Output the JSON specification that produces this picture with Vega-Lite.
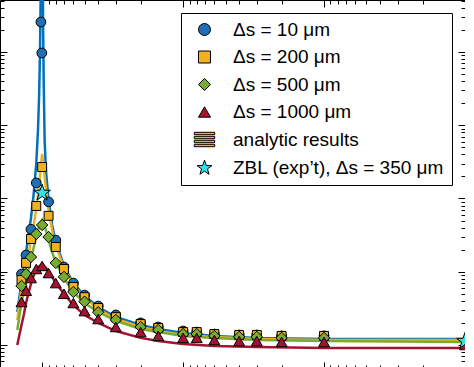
{
  "$schema": "https://vega.github.io/schema/vega-lite/v6.json",
  "width": 465,
  "height": 369,
  "autosize": {"type": "none"},
  "padding": 0,
  "background": "white",
  "config": {
    "view": {"stroke": "black", "strokeWidth": 1},
    "axis": {"labels": false, "title": null, "domain": false, "grid": false, "tickColor": "black", "tickWidth": 1}
  },
  "datasets": {
    "curves": [
      {"series": "Δs = 10 μm", "x": 1500, "y": 2.82}, {"series": "Δs = 10 μm", "x": 1450, "y": 4.5}, {"series": "Δs = 10 μm", "x": 1400, "y": 7.0}, {"series": "Δs = 10 μm", "x": 1350, "y": 11.3}, {"series": "Δs = 10 μm", "x": 1300, "y": 18.6}, {"series": "Δs = 10 μm", "x": 1250, "y": 30.8}, {"series": "Δs = 10 μm", "x": 1200, "y": 54.2}, {"series": "Δs = 10 μm", "x": 1150, "y": 111}, {"series": "Δs = 10 μm", "x": 1100, "y": 305}, {"series": "Δs = 10 μm", "x": 1070, "y": 860}, {"series": "Δs = 10 μm", "x": 1050, "y": 2600}, {"series": "Δs = 10 μm", "x": 1035, "y": 10600}, {"series": "Δs = 10 μm", "x": 1025, "y": 51000}, {"series": "Δs = 10 μm", "x": 1015, "y": 180000}, {"series": "Δs = 10 μm", "x": 990, "y": 180000}, {"series": "Δs = 10 μm", "x": 985, "y": 27000}, {"series": "Δs = 10 μm", "x": 975, "y": 4150}, {"series": "Δs = 10 μm", "x": 960, "y": 630}, {"series": "Δs = 10 μm", "x": 940, "y": 245}, {"series": "Δs = 10 μm", "x": 900, "y": 95}, {"series": "Δs = 10 μm", "x": 850, "y": 43.5}, {"series": "Δs = 10 μm", "x": 800, "y": 25.5}, {"series": "Δs = 10 μm", "x": 700, "y": 12}, {"series": "Δs = 10 μm", "x": 600, "y": 7.0}, {"series": "Δs = 10 μm", "x": 500, "y": 4.67}, {"series": "Δs = 10 μm", "x": 400, "y": 3.3}, {"series": "Δs = 10 μm", "x": 300, "y": 2.41}, {"series": "Δs = 10 μm", "x": 200, "y": 1.88}, {"series": "Δs = 10 μm", "x": 150, "y": 1.65}, {"series": "Δs = 10 μm", "x": 100, "y": 1.46}, {"series": "Δs = 10 μm", "x": 60, "y": 1.33}, {"series": "Δs = 10 μm", "x": 30, "y": 1.25}, {"series": "Δs = 10 μm", "x": 10, "y": 1.21}, {"series": "Δs = 10 μm", "x": 1, "y": 1.21},
      {"series": "Δs = 200 μm", "x": 1500, "y": 2.19}, {"series": "Δs = 200 μm", "x": 1450, "y": 3.74}, {"series": "Δs = 200 μm", "x": 1400, "y": 5.6}, {"series": "Δs = 200 μm", "x": 1350, "y": 8.2}, {"series": "Δs = 200 μm", "x": 1300, "y": 12.0}, {"series": "Δs = 200 μm", "x": 1250, "y": 17.5}, {"series": "Δs = 200 μm", "x": 1200, "y": 26.3}, {"series": "Δs = 200 μm", "x": 1150, "y": 42}, {"series": "Δs = 200 μm", "x": 1100, "y": 74}, {"series": "Δs = 200 μm", "x": 1050, "y": 153}, {"series": "Δs = 200 μm", "x": 1020, "y": 287}, {"series": "Δs = 200 μm", "x": 1000, "y": 407}, {"series": "Δs = 200 μm", "x": 980, "y": 287}, {"series": "Δs = 200 μm", "x": 950, "y": 163}, {"series": "Δs = 200 μm", "x": 900, "y": 69.7}, {"series": "Δs = 200 μm", "x": 850, "y": 37.2}, {"series": "Δs = 200 μm", "x": 800, "y": 22.5}, {"series": "Δs = 200 μm", "x": 700, "y": 11.3}, {"series": "Δs = 200 μm", "x": 600, "y": 6.6}, {"series": "Δs = 200 μm", "x": 500, "y": 4.4}, {"series": "Δs = 200 μm", "x": 400, "y": 3.1}, {"series": "Δs = 200 μm", "x": 300, "y": 2.26}, {"series": "Δs = 200 μm", "x": 200, "y": 1.76}, {"series": "Δs = 200 μm", "x": 150, "y": 1.55}, {"series": "Δs = 200 μm", "x": 100, "y": 1.37}, {"series": "Δs = 200 μm", "x": 60, "y": 1.29}, {"series": "Δs = 200 μm", "x": 30, "y": 1.21}, {"series": "Δs = 200 μm", "x": 10, "y": 1.17}, {"series": "Δs = 200 μm", "x": 1, "y": 1.17},
      {"series": "Δs = 500 μm", "x": 1500, "y": 1.6}, {"series": "Δs = 500 μm", "x": 1450, "y": 2.49}, {"series": "Δs = 500 μm", "x": 1400, "y": 3.74}, {"series": "Δs = 500 μm", "x": 1350, "y": 5.3}, {"series": "Δs = 500 μm", "x": 1300, "y": 7.5}, {"series": "Δs = 500 μm", "x": 1250, "y": 10.6}, {"series": "Δs = 500 μm", "x": 1200, "y": 14.9}, {"series": "Δs = 500 μm", "x": 1150, "y": 21.1}, {"series": "Δs = 500 μm", "x": 1100, "y": 29.8}, {"series": "Δs = 500 μm", "x": 1050, "y": 42}, {"series": "Δs = 500 μm", "x": 1000, "y": 50.9}, {"series": "Δs = 500 μm", "x": 950, "y": 39.6}, {"series": "Δs = 500 μm", "x": 900, "y": 27.1}, {"series": "Δs = 500 μm", "x": 850, "y": 18.6}, {"series": "Δs = 500 μm", "x": 800, "y": 13.6}, {"series": "Δs = 500 μm", "x": 700, "y": 8.2}, {"series": "Δs = 500 μm", "x": 600, "y": 5.3}, {"series": "Δs = 500 μm", "x": 500, "y": 3.74}, {"series": "Δs = 500 μm", "x": 400, "y": 2.82}, {"series": "Δs = 500 μm", "x": 300, "y": 2.13}, {"series": "Δs = 500 μm", "x": 200, "y": 1.65}, {"series": "Δs = 500 μm", "x": 150, "y": 1.5}, {"series": "Δs = 500 μm", "x": 100, "y": 1.33}, {"series": "Δs = 500 μm", "x": 60, "y": 1.25}, {"series": "Δs = 500 μm", "x": 30, "y": 1.17}, {"series": "Δs = 500 μm", "x": 10, "y": 1.13}, {"series": "Δs = 500 μm", "x": 1, "y": 1.1},
      {"series": "Δs = 1000 μm", "x": 1500, "y": 1.0}, {"series": "Δs = 1000 μm", "x": 1450, "y": 1.37}, {"series": "Δs = 1000 μm", "x": 1400, "y": 1.88}, {"series": "Δs = 1000 μm", "x": 1350, "y": 2.57}, {"series": "Δs = 1000 μm", "x": 1300, "y": 3.74}, {"series": "Δs = 1000 μm", "x": 1250, "y": 5.1}, {"series": "Δs = 1000 μm", "x": 1200, "y": 6.8}, {"series": "Δs = 1000 μm", "x": 1150, "y": 8.8}, {"series": "Δs = 1000 μm", "x": 1100, "y": 10.6}, {"series": "Δs = 1000 μm", "x": 1050, "y": 11.8}, {"series": "Δs = 1000 μm", "x": 1000, "y": 12.6}, {"series": "Δs = 1000 μm", "x": 950, "y": 11.6}, {"series": "Δs = 1000 μm", "x": 900, "y": 10.2}, {"series": "Δs = 1000 μm", "x": 850, "y": 8.5}, {"series": "Δs = 1000 μm", "x": 800, "y": 7.0}, {"series": "Δs = 1000 μm", "x": 700, "y": 5.0}, {"series": "Δs = 1000 μm", "x": 600, "y": 3.5}, {"series": "Δs = 1000 μm", "x": 500, "y": 2.57}, {"series": "Δs = 1000 μm", "x": 400, "y": 2.0}, {"series": "Δs = 1000 μm", "x": 300, "y": 1.55}, {"series": "Δs = 1000 μm", "x": 200, "y": 1.25}, {"series": "Δs = 1000 μm", "x": 150, "y": 1.13}, {"series": "Δs = 1000 μm", "x": 100, "y": 1.03}, {"series": "Δs = 1000 μm", "x": 60, "y": 0.97}, {"series": "Δs = 1000 μm", "x": 30, "y": 0.94}, {"series": "Δs = 1000 μm", "x": 10, "y": 0.91}, {"series": "Δs = 1000 μm", "x": 1, "y": 0.91}
    ],
    "points": [
      {"series": "Δs = 10 μm", "x": 1400, "y": 9.3}, {"series": "Δs = 10 μm", "x": 1300, "y": 16.9}, {"series": "Δs = 10 μm", "x": 1200, "y": 38}, {"series": "Δs = 10 μm", "x": 1100, "y": 163}, {"series": "Δs = 10 μm", "x": 1020, "y": 25700}, {"series": "Δs = 10 μm", "x": 1005, "y": 9700}, {"series": "Δs = 10 μm", "x": 900, "y": 90}, {"series": "Δs = 10 μm", "x": 800, "y": 27}, {"series": "Δs = 10 μm", "x": 700, "y": 11.6}, {"series": "Δs = 10 μm", "x": 600, "y": 7.0}, {"series": "Δs = 10 μm", "x": 500, "y": 4.8}, {"series": "Δs = 10 μm", "x": 400, "y": 3.4}, {"series": "Δs = 10 μm", "x": 300, "y": 2.57}, {"series": "Δs = 10 μm", "x": 200, "y": 2.0}, {"series": "Δs = 10 μm", "x": 150, "y": 1.76}, {"series": "Δs = 10 μm", "x": 100, "y": 1.55}, {"series": "Δs = 10 μm", "x": 80, "y": 1.5}, {"series": "Δs = 10 μm", "x": 60, "y": 1.41}, {"series": "Δs = 10 μm", "x": 40, "y": 1.37}, {"series": "Δs = 10 μm", "x": 30, "y": 1.37}, {"series": "Δs = 10 μm", "x": 20, "y": 1.33}, {"series": "Δs = 10 μm", "x": 10, "y": 1.33},
      {"series": "Δs = 200 μm", "x": 1400, "y": 7.7}, {"series": "Δs = 200 μm", "x": 1300, "y": 13.2}, {"series": "Δs = 200 μm", "x": 1200, "y": 28}, {"series": "Δs = 200 μm", "x": 1100, "y": 79}, {"series": "Δs = 200 μm", "x": 1000, "y": 269}, {"series": "Δs = 200 μm", "x": 900, "y": 58}, {"series": "Δs = 200 μm", "x": 800, "y": 21.8}, {"series": "Δs = 200 μm", "x": 700, "y": 10.9}, {"series": "Δs = 200 μm", "x": 600, "y": 6.2}, {"series": "Δs = 200 μm", "x": 500, "y": 4.5}, {"series": "Δs = 200 μm", "x": 400, "y": 3.2}, {"series": "Δs = 200 μm", "x": 300, "y": 2.4}, {"series": "Δs = 200 μm", "x": 200, "y": 1.93}, {"series": "Δs = 200 μm", "x": 150, "y": 1.71}, {"series": "Δs = 200 μm", "x": 100, "y": 1.5}, {"series": "Δs = 200 μm", "x": 80, "y": 1.5}, {"series": "Δs = 200 μm", "x": 60, "y": 1.41}, {"series": "Δs = 200 μm", "x": 40, "y": 1.37}, {"series": "Δs = 200 μm", "x": 30, "y": 1.37}, {"series": "Δs = 200 μm", "x": 20, "y": 1.33}, {"series": "Δs = 200 μm", "x": 10, "y": 1.33},
      {"series": "Δs = 500 μm", "x": 1400, "y": 6.4}, {"series": "Δs = 500 μm", "x": 1300, "y": 9.3}, {"series": "Δs = 500 μm", "x": 1200, "y": 15.9}, {"series": "Δs = 500 μm", "x": 1100, "y": 32.8}, {"series": "Δs = 500 μm", "x": 1000, "y": 43.5}, {"series": "Δs = 500 μm", "x": 900, "y": 29.8}, {"series": "Δs = 500 μm", "x": 800, "y": 13.2}, {"series": "Δs = 500 μm", "x": 700, "y": 8.5}, {"series": "Δs = 500 μm", "x": 600, "y": 5.3}, {"series": "Δs = 500 μm", "x": 500, "y": 3.9}, {"series": "Δs = 500 μm", "x": 400, "y": 2.8}, {"series": "Δs = 500 μm", "x": 300, "y": 2.2}, {"series": "Δs = 500 μm", "x": 200, "y": 1.76}, {"series": "Δs = 500 μm", "x": 150, "y": 1.6}, {"series": "Δs = 500 μm", "x": 100, "y": 1.41}, {"series": "Δs = 500 μm", "x": 80, "y": 1.41}, {"series": "Δs = 500 μm", "x": 60, "y": 1.33}, {"series": "Δs = 500 μm", "x": 40, "y": 1.29}, {"series": "Δs = 500 μm", "x": 30, "y": 1.29}, {"series": "Δs = 500 μm", "x": 20, "y": 1.25}, {"series": "Δs = 500 μm", "x": 10, "y": 1.25},
      {"series": "Δs = 1000 μm", "x": 1400, "y": 3.86}, {"series": "Δs = 1000 μm", "x": 1300, "y": 5.5}, {"series": "Δs = 1000 μm", "x": 1200, "y": 8.2}, {"series": "Δs = 1000 μm", "x": 1100, "y": 10.9}, {"series": "Δs = 1000 μm", "x": 1000, "y": 12.0}, {"series": "Δs = 1000 μm", "x": 900, "y": 9.6}, {"series": "Δs = 1000 μm", "x": 800, "y": 7.0}, {"series": "Δs = 1000 μm", "x": 700, "y": 5.0}, {"series": "Δs = 1000 μm", "x": 600, "y": 3.74}, {"series": "Δs = 1000 μm", "x": 500, "y": 2.9}, {"series": "Δs = 1000 μm", "x": 400, "y": 2.26}, {"series": "Δs = 1000 μm", "x": 300, "y": 1.76}, {"series": "Δs = 1000 μm", "x": 200, "y": 1.5}, {"series": "Δs = 1000 μm", "x": 150, "y": 1.33}, {"series": "Δs = 1000 μm", "x": 100, "y": 1.25}, {"series": "Δs = 1000 μm", "x": 80, "y": 1.25}, {"series": "Δs = 1000 μm", "x": 60, "y": 1.17}, {"series": "Δs = 1000 μm", "x": 40, "y": 1.13}, {"series": "Δs = 1000 μm", "x": 30, "y": 1.13}, {"series": "Δs = 1000 μm", "x": 20, "y": 1.1}, {"series": "Δs = 1000 μm", "x": 10, "y": 1.1}, {"series": "Δs = 1000 μm", "x": 1, "y": 1.0}
    ],
    "star": [
      {"series": "ZBL (exp’t), Δs = 350 μm", "x": 1000, "y": 119},
      {"series": "ZBL (exp’t), Δs = 350 μm", "x": 1, "y": 1.13}
    ]
  },
  "layer": [
    {
      "data": {"name": "curves"},
      "mark": {"type": "line", "clip": true, "strokeWidth": 2.5, "interpolate": "linear"},
      "encoding": {
        "x": {"field": "x", "type": "quantitative", "scale": {"type": "log", "domain": [1, 1990], "reverse": true, "nice": false},
              "axis": {"orient": "bottom", "tickCount": 30, "tickSize": -4}},
        "y": {"field": "y", "type": "quantitative", "scale": {"type": "log", "domain": [0.47, 51300], "nice": false},
              "axis": {"orient": "left", "tickCount": 30, "tickSize": -4}},
        "stroke": {"field": "series", "type": "nominal",
                   "scale": {"domain": ["Δs = 10 μm", "Δs = 200 μm", "Δs = 500 μm", "Δs = 1000 μm"], "range": ["#0072BD", "#EDB120", "#77AC30", "#A2142F"]},
                   "legend": null}
      }
    },
    {
      "data": {"name": "points"},
      "mark": {"type": "point", "filled": true, "stroke": "black", "strokeWidth": 1, "opacity": 1},
      "encoding": {
        "x": {"field": "x", "type": "quantitative", "scale": {"type": "log", "domain": [1, 1990], "reverse": true, "nice": false},
              "axis": {"orient": "bottom", "values": [1, 10, 100, 1000], "tickSize": -7}},
        "y": {"field": "y", "type": "quantitative", "scale": {"type": "log", "domain": [0.47, 51300], "nice": false},
              "axis": {"orient": "left", "values": [1, 10, 100, 1000, 10000], "tickSize": -7}},
        "fill": {"field": "series", "type": "nominal",
                 "scale": {"domain": ["Δs = 10 μm", "Δs = 200 μm", "Δs = 500 μm", "Δs = 1000 μm", "analytic results", "ZBL (exp’t), Δs = 350 μm"],
                           "range": ["#1F6FB5", "#EFB122", "#77AC30", "#A2142F", "#EDB120", "#2EE3F0"]},
                 "legend": {
                   "orient": "top-right", "offset": 13, "title": null, "padding": 7,
                   "strokeColor": "black", "fillColor": "white", "cornerRadius": 0,
                   "labelFont": "Liberation Sans", "labelFontSize": 19, "labelColor": "black", "labelLimit": 0,
                   "symbolSize": 144, "symbolOffset": 7, "rowPadding": 7.5, "labelOffset": 19,
                   "symbolStrokeColor": "black", "symbolStrokeWidth": 1, "symbolOpacity": 1
                 }},
        "shape": {"field": "series", "type": "nominal",
                  "scale": {"domain": ["Δs = 10 μm", "Δs = 200 μm", "Δs = 500 μm", "Δs = 1000 μm", "analytic results", "ZBL (exp’t), Δs = 350 μm"],
                            "range": ["circle", "square", "diamond", "triangle-up",
                                      "M-1.7,-1.2H1.7V-0.8H-1.7Z M-1.7,-0.53H1.7V-0.13H-1.7Z M-1.7,0.13H1.7V0.53H-1.7Z M-1.7,0.8H1.7V1.2H-1.7Z",
                                      "M0,-1.3L0.3,-0.42L1.24,-0.4L0.49,0.16L0.76,1.05L0,0.52L-0.76,1.05L-0.49,0.16L-1.24,-0.4L-0.3,-0.42Z"]}},
        "size": {"condition": [{"test": "datum.series === 'Δs = 200 μm'", "value": 80}, {"test": "datum.series === 'Δs = 500 μm'", "value": 130}, {"test": "datum.series === 'Δs = 1000 μm'", "value": 120}], "value": 95}
      }
    },
    {
      "data": {"name": "star"},
      "mark": {"type": "point", "filled": true, "stroke": "black", "strokeWidth": 1, "opacity": 1, "size": 180},
      "encoding": {
        "x": {"field": "x", "type": "quantitative", "scale": {"type": "log", "domain": [1, 1990], "reverse": true, "nice": false},
              "axis": {"orient": "top", "tickCount": 30, "tickSize": -4}},
        "y": {"field": "y", "type": "quantitative", "scale": {"type": "log", "domain": [0.47, 51300], "nice": false},
              "axis": {"orient": "right", "tickCount": 30, "tickSize": -4}},
        "fill": {"field": "series", "type": "nominal"},
        "shape": {"field": "series", "type": "nominal"}
      }
    },
    {
      "data": {"name": "star"},
      "mark": {"type": "point", "opacity": 0},
      "encoding": {
        "x": {"field": "x", "type": "quantitative", "scale": {"type": "log", "domain": [1, 1990], "reverse": true, "nice": false},
              "axis": {"orient": "top", "values": [1, 10, 100, 1000], "tickSize": -7}},
        "y": {"field": "y", "type": "quantitative", "scale": {"type": "log", "domain": [0.47, 51300], "nice": false},
              "axis": {"orient": "right", "values": [1, 10, 100, 1000, 10000], "tickSize": -7}}
      }
    }
  ],
  "resolve": {"axis": {"x": "independent", "y": "independent"}}
}
